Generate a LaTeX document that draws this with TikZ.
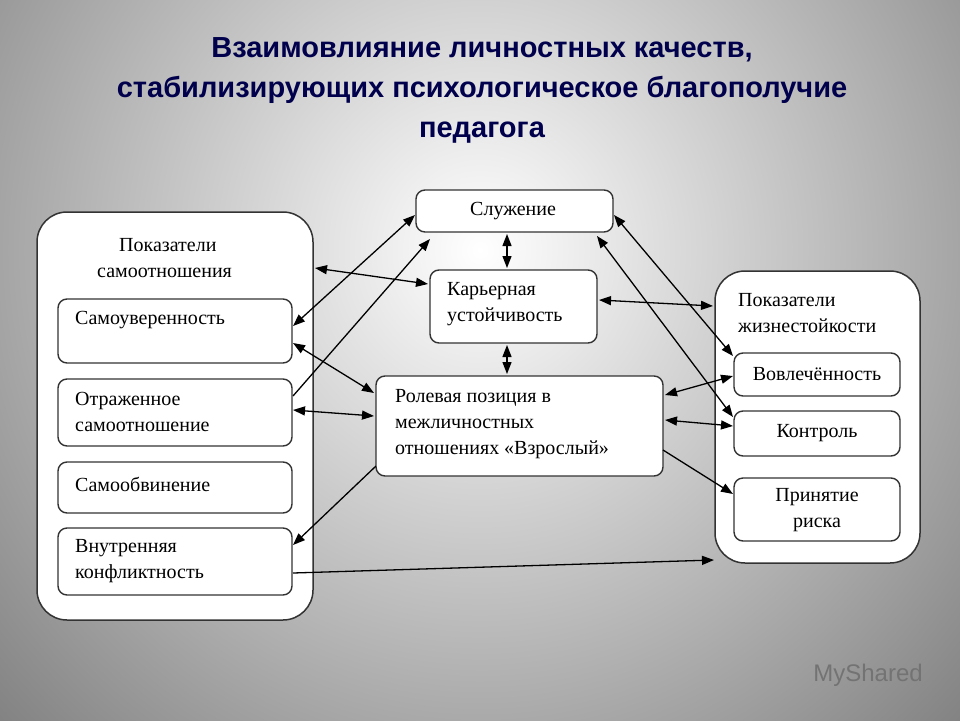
\documentclass[tikz,border=0pt]{standalone}
\usepackage{fontspec}
\setmainfont{Liberation Serif}
\newfontfamily\titlefont{Liberation Sans}
\usetikzlibrary{arrows.meta}
\begin{document}
\begin{tikzpicture}[x=1pt,y=-1pt,
  bx/.style={draw=black!80,line width=1.4pt,fill=white,rounded corners=9pt},
  big/.style={draw=black!80,line width=1.5pt,fill=white,rounded corners=30pt},
  tx/.style={anchor=west,align=left,font=\fontsize{20}{26}\selectfont,inner sep=0pt},
  ar/.style={-{Triangle[length=12pt,width=9pt]},line width=1.3pt},
  dar/.style={{Triangle[length=12pt,width=9pt]}-{Triangle[length=12pt,width=9pt]},line width=1.3pt}]
\useasboundingbox (0,0) rectangle (960,720);
\begin{scope}
\clip (0,0) rectangle (960,720);
\shade[inner color=white,outer color=black!50] (-200,-450) rectangle (1160,950);
\end{scope}
\node[font=\titlefont\bfseries\fontsize{29}{40}\selectfont,text=blue!30!black,align=center] (title) at (482,90)
 {Взаимовлияние личностных качеств,\\стабилизирующих психологическое благополучие\\педагога};
% big boxes
\draw[big] (37,212) rectangle (313,620);
\draw[big] (715,271) rectangle (920,563);
\node[tx] (lt) at (97,258) {\hspace*{22pt}Показатели\\самоотношения};
\node[tx] (rt) at (738,313) {Показатели\\жизнестойкости};
% left boxes
\draw[bx] (58,299) rectangle (292,363);
\draw[bx] (58,379) rectangle (292,446);
\draw[bx] (58,462) rectangle (292,513);
\draw[bx] (58,528) rectangle (292,595);
\node[tx] (a) at (75,320) {Самоуверенность};
\node[tx] (b) at (75,412) {Отраженное\\самоотношение};
\node[tx] (c) at (75,484) {Самообвинение};
\node[tx] (d) at (75,561) {Внутренняя\\конфликтность};
% center
\draw[bx] (416,190) rectangle (613,232);
\node[tx] (s) at (470,211) {Служение};
\draw[bx] (430,270) rectangle (597,343);
\node[tx] (k) at (447,304) {Карьерная\\устойчивость};
\draw[bx] (376,376) rectangle (663,476);
\node[tx] (r) at (395,424) {Ролевая позиция в\\межличностных\\отношениях «Взрослый»};
% right boxes
\draw[bx] (734,353) rectangle (900,396);
\draw[bx] (734,411) rectangle (900,456);
\draw[bx] (734,478) rectangle (900,541);
\node[tx,anchor=center] (v) at (817,374) {Вовлечённость};
\node[tx,anchor=center] (kn) at (817,433) {Контроль};
\node[tx,anchor=center,align=center] (p) at (817,510) {Принятие\\риска};
\node[font=\titlefont\fontsize{24}{24}\selectfont,text=black!55] (logo) at (868,675) {MyShared};
% connectors
\draw[dar] (415,215) -- (293,326);
\draw[ar] (293,396) -- (430,239);
\draw[dar] (315,268) -- (428,284);
\draw[dar] (293,343) -- (374,393);
\draw[dar] (293,410) -- (374,416);
\draw[ar] (376,466) -- (293,545);
\draw[ar] (293,573) -- (714,560);
\draw[dar] (507,234) -- (507,268);
\draw[dar] (507,345) -- (507,374);
\draw[dar] (599,300) -- (713,306);
\draw[dar] (614,215) -- (733,356);
\draw[dar] (597,236) -- (733,417);
\draw[dar] (665,395) -- (733,376);
\draw[dar] (665,420) -- (733,426);
\draw[ar] (663,450) -- (733,494);
\end{tikzpicture}
\end{document}
